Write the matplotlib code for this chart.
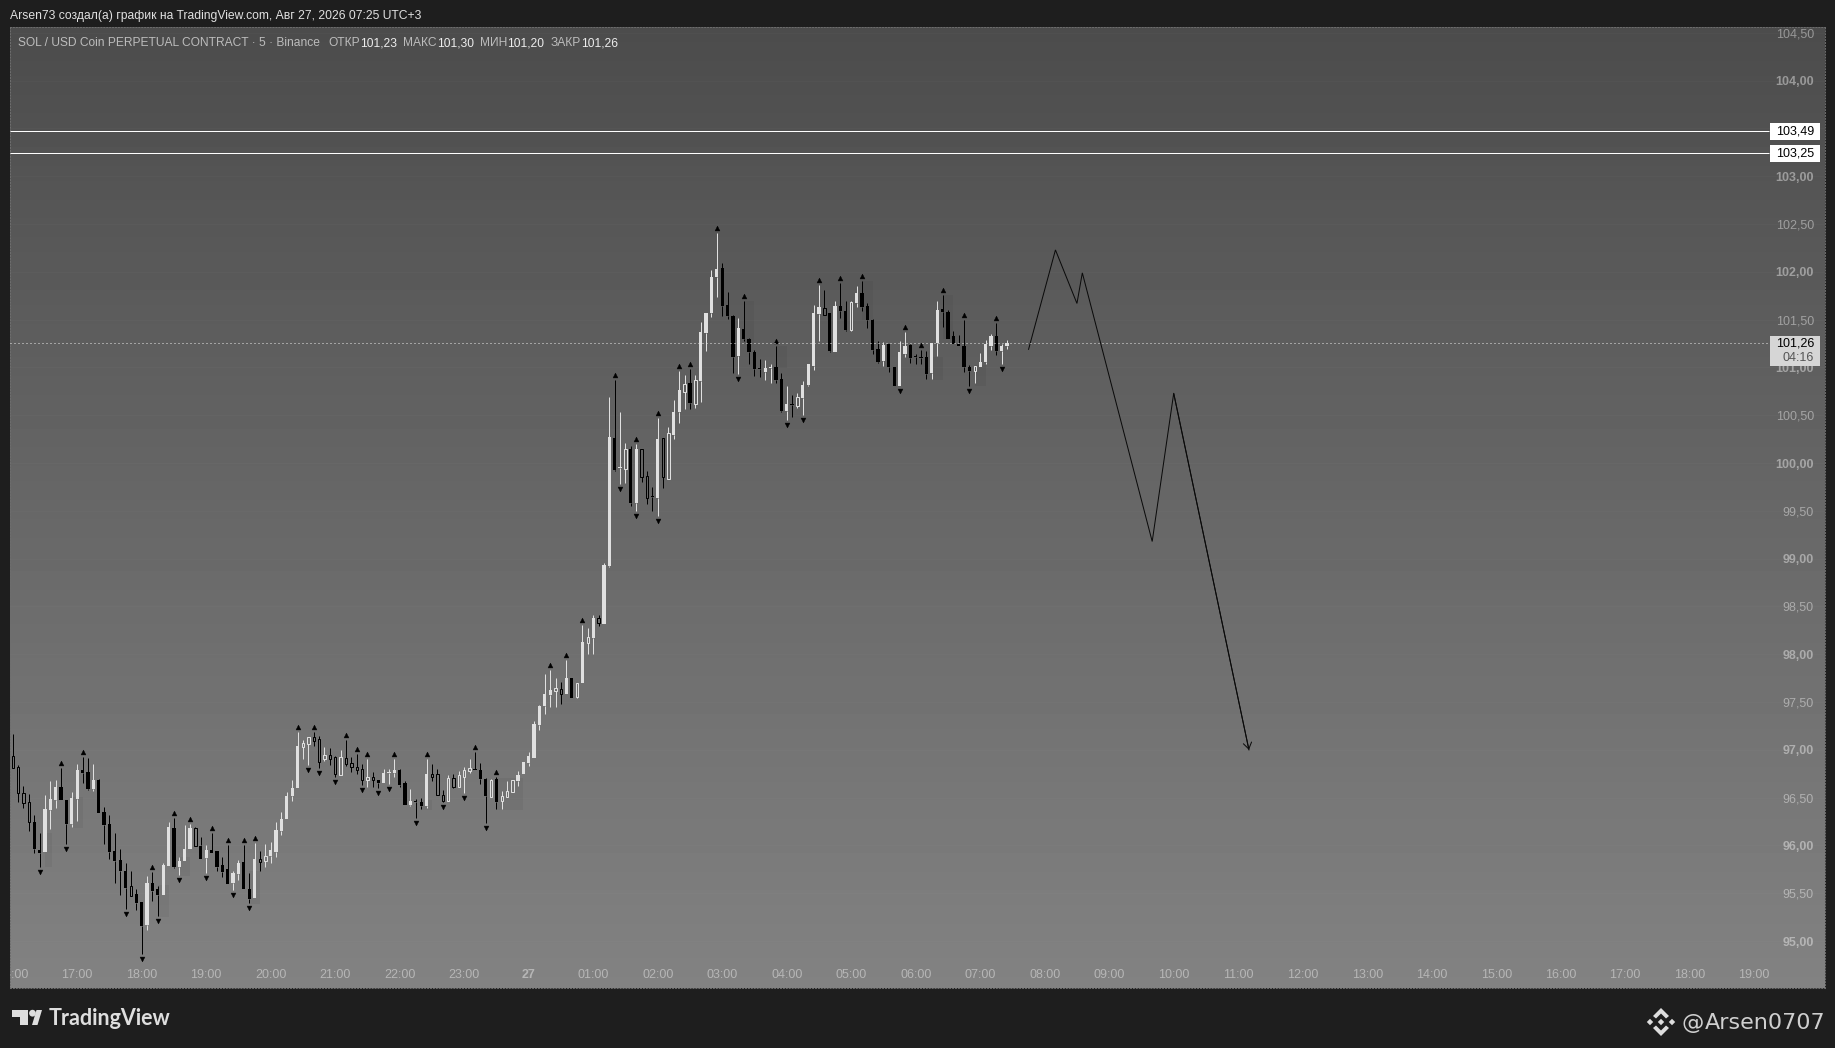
import numpy as np
import matplotlib
matplotlib.use("Agg")
import matplotlib.pyplot as plt
from matplotlib.patches import Rectangle, Polygon, Circle
from matplotlib.transforms import offset_copy

# ---------- data ----------
candle_kind = ("bbbbBBWWWBBWWBBWBBBBBBbBBWBBWWBWWWbBWBBBBWWBBWbw" "WWWWWWwwbbwbbwbbbbwbBWWWBBWBBWbbbwbwwwBBBwBwww"
               "WWWWWWWwbWBwWwWbWWBWwBWbbBWbwWWwBwWWWWBBBWBBBBWWBBWBwWWWWbBWBBwWBBBBWBBWWBBBBWWBBBBBBwWWWBWW")
highs = [97.17,96.84,96.62,96.54,96.32,96.13,96.53,96.67,96.69,96.81,
         96.48,96.56,96.85,96.93,96.92,96.85,96.70,96.40,96.32,96.13,
         95.96,95.82,95.73,95.55,95.41,95.68,95.72,95.58,95.82,96.25,
         96.29,95.88,96.21,96.22,96.19,96.09,96.00,96.13,95.94,95.88,
         96.01,95.73,95.85,96.00,95.71,96.03,95.94,96.02,96.04,96.25,
         96.35,96.56,96.68,97.19,97.10,97.14,97.19,97.15,97.03,97.02,
         96.94,97.00,97.10,96.93,96.96,96.85,96.90,96.77,96.69,96.80,
         96.80,96.90,96.80,96.67,96.59,96.49,96.50,96.90,96.85,96.80,
         96.58,96.74,96.75,96.78,96.82,96.90,96.98,96.86,96.71,96.70,
         96.72,96.57,96.67,96.68,96.78,96.87,96.98,97.30,97.47,97.79,
         97.84,97.75,97.71,97.94,97.75,97.70,98.31,98.27,98.41,98.41,
         98.95,100.69,100.87,100.53,100.21,100.18,100.20,100.15,99.92,99.75,
         100.47,100.26,100.38,100.66,100.96,100.92,100.98,100.92,101.48,101.57,
         102.02,102.41,102.09,101.79,101.55,101.52,101.70,101.31,101.18,101.09,
         101.08,101.04,101.22,100.94,100.81,100.71,100.73,100.86,101.04,101.65,
         101.86,101.81,101.57,101.70,101.88,101.70,101.70,101.85,101.91,101.67,
         101.51,101.28,101.27,101.25,101.01,101.28,101.37,101.25,101.14,101.18,
         101.17,101.26,101.70,101.76,101.60,101.38,101.34,101.50,101.03,101.02,
         101.15,101.29,101.35,101.47,101.25,101.29]
body_tops = [96.94,96.82,96.55,96.45,96.25,95.95,96.38,96.49,96.61,96.61,
         96.48,96.50,96.79,96.79,96.77,96.69,96.69,96.35,96.22,95.94,
         95.85,95.73,95.58,95.49,95.41,95.61,95.61,95.54,95.80,96.19,
         96.18,95.84,95.96,96.18,96.18,96.00,95.95,95.95,95.94,95.80,
         95.75,95.71,95.82,95.83,95.55,95.86,95.86,95.89,95.95,96.16,
         96.28,96.52,96.60,97.04,97.07,97.13,97.13,97.11,96.95,96.95,
         96.93,96.93,96.92,96.86,96.82,96.80,96.72,96.72,96.69,96.76,
         96.77,96.79,96.79,96.65,96.47,96.47,96.46,96.75,96.75,96.75,
         96.53,96.71,96.71,96.74,96.79,96.81,96.80,96.79,96.70,96.69,
         96.70,96.52,96.57,96.68,96.74,96.87,96.94,97.27,97.46,97.58,
         97.63,97.65,97.64,97.75,97.75,97.70,98.13,98.18,98.38,98.38,
         98.93,100.27,100.26,99.96,100.15,100.15,100.15,100.15,99.86,99.66,
         100.25,100.26,100.31,100.53,100.76,100.83,100.84,100.87,101.37,101.57,
         101.95,102.03,102.04,101.65,101.54,101.41,101.40,101.30,101.16,100.99,
         100.99,101.00,101.00,100.88,100.62,100.62,100.69,100.82,101.04,101.57,
         101.63,101.62,101.57,101.64,101.64,101.59,101.68,101.78,101.78,101.64,
         101.50,101.19,101.24,101.25,101.01,101.16,101.23,101.24,101.12,101.11,
         101.11,101.26,101.60,101.61,101.58,101.33,101.25,101.23,101.00,101.02,
         101.06,101.25,101.33,101.33,101.23,101.26]
body_bottoms = [96.81,96.55,96.44,96.25,95.96,95.92,95.93,96.37,96.48,96.48,
         96.23,96.22,96.49,96.76,96.59,96.59,96.34,96.21,95.93,95.84,
         95.73,95.56,95.47,95.40,95.16,95.17,95.52,95.48,95.48,95.79,
         95.77,95.77,95.84,95.96,95.99,95.86,95.87,95.92,95.78,95.72,
         95.60,95.61,95.70,95.54,95.44,95.45,95.83,95.84,95.89,95.93,
         96.15,96.28,96.52,96.60,97.03,97.06,97.09,96.87,96.90,96.90,
         96.75,96.74,96.85,96.82,96.79,96.69,96.69,96.68,96.65,96.65,
         96.76,96.76,96.63,96.42,96.42,96.46,96.41,96.41,96.72,96.53,
         96.47,96.47,96.61,96.61,96.72,96.78,96.79,96.70,96.52,96.51,
         96.46,96.47,96.51,96.56,96.67,96.75,96.86,96.92,97.26,97.46,
         97.57,97.62,97.58,97.58,97.54,97.55,97.70,98.12,98.17,98.33,
         98.32,98.92,99.93,99.95,99.94,99.58,99.58,99.85,99.64,99.65,
         99.64,99.85,99.83,100.29,100.53,100.74,100.63,100.62,100.86,101.36,
         101.57,101.95,101.64,101.54,101.11,101.12,101.30,101.16,100.98,100.98,
         100.95,100.99,100.87,100.55,100.54,100.61,100.60,100.68,100.82,101.02,
         101.56,101.55,101.17,101.16,101.59,101.39,101.39,101.67,101.63,101.50,
         101.18,101.06,101.07,101.00,100.81,100.81,101.14,101.10,101.11,101.10,
         100.93,100.94,101.26,101.58,101.30,101.25,101.22,101.00,100.96,100.96,
         101.00,101.06,101.23,101.17,101.17,101.22]
lows = [96.81,96.45,96.39,96.15,95.92,95.78,95.93,96.17,96.39,96.48,
         96.02,96.19,96.26,96.65,96.58,96.57,96.34,96.02,95.86,95.61,
         95.48,95.34,95.47,95.33,94.87,95.12,95.42,95.26,95.48,95.79,
         95.76,95.69,95.84,95.96,95.99,95.86,95.71,95.92,95.73,95.67,
         95.60,95.53,95.64,95.54,95.40,95.45,95.73,95.78,95.82,95.88,
         96.11,96.28,96.47,96.60,96.90,96.84,97.04,96.81,96.88,96.84,
         96.72,96.74,96.83,96.77,96.75,96.63,96.61,96.61,96.60,96.65,
         96.64,96.72,96.61,96.42,96.41,96.29,96.38,96.39,96.67,96.53,
         96.45,96.47,96.60,96.61,96.55,96.76,96.79,96.64,96.24,96.51,
         96.38,96.38,96.51,96.56,96.62,96.75,96.83,96.92,97.21,97.38,
         97.45,97.45,97.48,97.58,97.54,97.54,97.70,98.00,98.00,98.30,
         98.32,98.91,99.92,99.78,99.79,99.55,99.50,99.80,99.57,99.50,
         99.45,99.74,99.83,100.25,100.42,100.57,100.57,100.58,100.64,101.17,
         101.53,101.74,101.54,101.51,100.94,100.93,101.28,101.04,100.91,100.90,
         100.87,100.84,100.84,100.53,100.45,100.48,100.58,100.50,100.81,100.97,
         101.28,101.55,101.16,101.16,101.52,101.38,101.38,101.63,101.59,101.41,
         101.14,101.05,101.02,100.95,100.81,100.81,101.11,101.05,101.04,101.04,
         100.88,100.88,101.12,101.42,101.30,101.25,101.22,100.95,100.81,100.84,
         101.00,101.04,101.18,101.13,101.04,101.19]
pivot_highs = [9,13,26,30,33,37,40,43,45,53,56,62,64,66,71,77,86,90,100,103,106,
               112,116,120,124,126,131,136,142,150,154,158,166,169,173,177,183]
pivot_lows = [5,10,21,24,27,31,36,41,44,55,57,60,65,68,70,75,80,84,88,113,116,120,
              135,144,147,165,178,184]
zone_start = [6,11,27,31,44,76,90,136,142,158,173,171,179]
zone_end   = [7.3,13,29,33,46,78,95,138,144,160,175,173,181]
zone_top   = [96.13,96.51,95.59,95.88,95.73,96.48,96.71,101.70,101.22,101.91,101.76,101.11,101.03]
zone_bot   = [95.77,96.18,95.25,95.68,95.39,96.37,96.37,101.25,100.99,101.50,101.30,100.87,100.81]
path_bars   = [189,194,198,199,212,216,230]
path_prices = [101.19,102.23,101.67,101.99,99.18,100.73,97.00]
level_prices = [103.47,103.24]
level_labels = ["103,49","103,25"]
last_price = 101.26
price_ticks = np.arange(95.0,104.51,0.5)
hours = [16,17,18,19,20,21,22,23,0,1,2,3,4,5,6,7,8,9,10,11,12,13,14,15,16,17,18,19]

# ---------- layout ----------
W,H = 1835,1048
BG = '#1e1e1e'
plt.rcParams['font.family'] = ['Liberation Sans','DejaVu Sans']
fig = plt.figure(figsize=(W/100,H/100),dpi=100,facecolor=BG)
L,R,T,B = 10,1825,27,988
ax = fig.add_axes([L/W,1-B/H,(R-L)/W,(B-T)/H],zorder=2)
PX_BAR = 5.375
PX_PRICE = 95.6
grad = np.linspace(76,130,256).reshape(-1,1)
ax.imshow(grad,cmap='gray',vmin=0,vmax=255,aspect='auto',extent=(0,1,0,1),
          transform=ax.transAxes,zorder=0,origin='upper')
ax.set_xlim((L-12.7)/PX_BAR,(R-12.7)/PX_BAR)
ax.set_ylim(104-(B-80.7)/PX_PRICE,104-(T-80.7)/PX_PRICE)
for s in ax.spines.values():
    s.set_color('#6e6e6e'); s.set_linewidth(0.7); s.set_linestyle((0,(1,2)))

# axes ticks
ax.yaxis.tick_right()
ax.set_yticks(price_ticks)
ax.set_yticklabels([f"{p:.2f}".replace('.',',') for p in price_ticks])
ax.tick_params(axis='y',length=0,pad=-8,labelsize=9.0)
for p,lab in zip(price_ticks,ax.get_yticklabels()):
    lab.set_ha('right')
    lab.set_color((1,1,1,0.42))
    lab.set_fontweight('bold' if abs(p-round(p))<1e-6 else 'normal')
xt = np.arange(len(hours))*12
ax.set_xticks(xt)
ax.set_xticklabels(['27' if h==0 else f"{h:02d}:00" for h in hours])
ax.tick_params(axis='x',length=0,pad=-13.6,labelsize=9.0)
for h,lab in zip(hours,ax.get_xticklabels()):
    lab.set_color((1,1,1,0.42))
    lab.set_clip_on(True); lab.set_clip_box(ax.bbox)
    if h==0: lab.set_fontweight('bold')
ax.grid(axis='y',color='white',alpha=0.02,lw=0.7)
ax.set_axisbelow(False)

# zones
for a,b,t,bt in zip(zone_start,zone_end,zone_top,zone_bot):
    ax.add_patch(Rectangle((a,bt),b-a,t-bt,fc=(0,0,0,0.045),ec='none',zorder=1))

# candles
LIGHT,DARK = '#e0e0e0','#000000'
kinds = list(candle_kind)
assert len(kinds)==len(highs)==len(lows)==len(body_tops)==len(body_bottoms)==186, len(kinds)
x = np.arange(len(kinds))
cols = [LIGHT if k in 'Ww' else DARK for k in kinds]
ax.vlines(x,body_tops,highs,colors=cols,lw=0.72,zorder=3)
ax.vlines(x,lows,body_bottoms,colors=cols,lw=0.72,zorder=3)
for i,k in enumerate(kinds):
    ht = max(body_tops[i]-body_bottoms[i],0.008)
    if k in 'WB':
        ax.bar(i,ht,bottom=body_bottoms[i],width=3.3/PX_BAR,color=cols[i],lw=0,zorder=4)
    else:
        ax.bar(i,ht,bottom=body_bottoms[i],width=2.4/PX_BAR,facecolor='none',edgecolor=cols[i],lw=0.72,zorder=4)
up_tr = offset_copy(ax.transData,fig=fig,x=0,y=5,units='dots')
dn_tr = offset_copy(ax.transData,fig=fig,x=0,y=-5,units='dots')
ax.plot(pivot_highs,[highs[i] for i in pivot_highs],ls='',marker='^',ms=3.5,mfc='k',mec='k',mew=0.3,transform=up_tr,zorder=4)
ax.plot(pivot_lows,[lows[i] for i in pivot_lows],ls='',marker='v',ms=3.5,mfc='k',mec='k',mew=0.3,transform=dn_tr,zorder=4)

# drawn path
ax.plot(path_bars,path_prices,color='#0a0a0a',lw=0.72,zorder=5,solid_joinstyle='miter')
ax.annotate('',xy=(path_bars[-1],path_prices[-1]),xytext=(path_bars[-2],path_prices[-2]),
            arrowprops=dict(arrowstyle='->,head_length=0.45,head_width=0.3',lw=0.72,color='#0a0a0a',shrinkA=0,shrinkB=0),zorder=5)

# levels and price tags
tag_l = (1770-L)/(R-L); tag_r = (1820-L)/(R-L); line_end = (1769-L)/(R-L)
ytr = ax.get_yaxis_transform()
text_x = (1814-L)/(R-L)
for p,lab in zip(level_prices,level_labels):
    ax.plot([0,line_end],[p,p],transform=ytr,color='white',lw=0.72,zorder=6,solid_capstyle='butt')
    ax.add_patch(Rectangle((tag_l,p-0.0875),tag_r-tag_l,0.175,transform=ytr,fc='white',ec='none',zorder=7))
    ax.text(text_x,p-0.005,lab,transform=ytr,ha='right',va='center',fontsize=9.0,color='black',zorder=8)
ax.plot([0,line_end],[last_price,last_price],transform=ytr,color='#e8e8e8',lw=0.72,ls=(0,(1,3)),zorder=6)
ax.add_patch(Rectangle((tag_l,101.016),tag_r-tag_l,0.314,transform=ytr,fc='#d6d6d6',ec='none',zorder=7))
ax.text(text_x,last_price-0.012,"101,26",transform=ytr,ha='right',va='center',fontsize=9.0,color='black',zorder=8)
ax.text(text_x,101.11-0.012,"04:16",transform=ytr,ha='right',va='center',fontsize=9.0,color='#555555',zorder=8)

# ---------- chrome overlay in pixels ----------
cx = fig.add_axes([0,0,1,1],zorder=3)
cx.set_xlim(0,W); cx.set_ylim(H,0); cx.axis('off'); cx.patch.set_alpha(0)
cx.text(10.2,15.5,"Arsen73 создал(а) график на TradingView.com, Авг 27, 2026 07:25 UTC+3",
        fontsize=8.7,color='#e0e0e0',va='center',ha='left')
GR,WH = '#bcbcbc','#ececec'
segs = [(18.4,"SOL / USD Coin PERPETUAL CONTRACT · 5 · Binance",GR),(328.6,"ОТКР",GR),(360.4,"101,23",WH),
        (403.3,"МАКС",GR),(436.7,"101,30",WH),(480.4,"МИН",GR),(507.3,"101,20",WH),(551,"ЗАКР",GR),(580.8,"101,26",WH)]
for sx,s,c in segs:
    cx.text(sx,43,s,fontsize=8.65,color=c,va='center',ha='left')

# TradingView mark
LG='#dedede'
cx.add_patch(Polygon([(12,1010),(27.5,1010),(27.5,1025),(20,1025),(20,1017),(12,1017)],fc=LG,ec='none'))
cx.add_patch(Circle((32.5,1013.2),3.4,fc=LG,ec='none'))
cx.add_patch(Polygon([(32,1025),(36.5,1010),(42,1010),(37.5,1025)],fc=LG,ec='none'))
cx.text(49,1018.5,"TradingView",fontsize=15.5,fontweight='bold',family='Lato',color=LG,va='center',ha='left')

# Binance mark
cxb,cyb = 1661,1022
def diamond(xc,yc,r):
    cx.add_patch(Polygon([(xc-r,yc),(xc,yc-r),(xc+r,yc),(xc,yc+r)],fc=LG,ec='none'))
diamond(cxb,cyb,3.2); diamond(cxb-11,cyb,3.2); diamond(cxb+11,cyb,3.2)
cx.add_patch(Polygon([(cxb,cyb-14),(cxb+8,cyb-6),(cxb+5,cyb-3.5),(cxb,cyb-8.5),(cxb-5,cyb-3.5),(cxb-8,cyb-6)],fc=LG,ec='none'))
cx.add_patch(Polygon([(cxb,cyb+14),(cxb+8,cyb+6),(cxb+5,cyb+3.5),(cxb,cyb+8.5),(cxb-5,cyb+3.5),(cxb-8,cyb+6)],fc=LG,ec='none'))
cx.text(1681,1023,"@",fontsize=16,family='DejaVu Sans',color='#cfcfcf',va='center',ha='left')
cx.text(1825.5,1023,"Arsen0707",fontsize=16,family='DejaVu Sans',color='#cfcfcf',va='center',ha='right')

fig.savefig('out.png',dpi=100,facecolor=BG)
